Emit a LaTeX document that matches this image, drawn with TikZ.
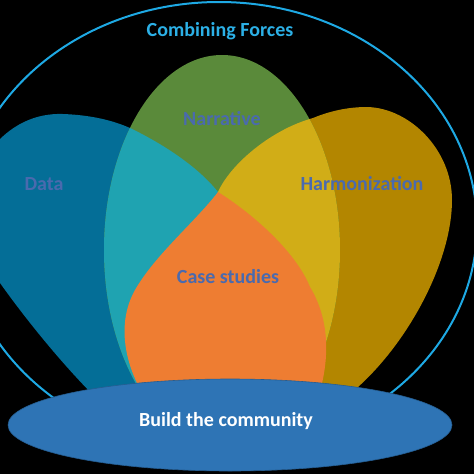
\documentclass[tikz,border=0pt]{standalone}
\usepackage{fontspec}
\setmainfont{Carlito}
\definecolor{dataC}{HTML}{046E97}
\definecolor{cyanC}{HTML}{1FA3B1}
\definecolor{greenC}{HTML}{5A8A3A}
\definecolor{yellowC}{HTML}{D1AD17}
\definecolor{goldC}{HTML}{B38600}
\definecolor{orangeC}{HTML}{EE7D32}
\definecolor{commC}{HTML}{2E74B5}
\definecolor{arcC}{HTML}{1EA9E4}
\definecolor{labelC}{HTML}{4A6AAE}
\definecolor{titleC}{HTML}{2CB0E6}
\tikzset{
  lbl/.style={text=labelC, font=\bfseries\fontsize{20}{24}\selectfont, inner sep=0pt},
  ttl/.style={text=titleC, font=\bfseries\fontsize{20}{24}\selectfont, inner sep=0pt},
  wlbl/.style={text=white, font=\bfseries\fontsize{20}{24}\selectfont, inner sep=0pt}
}
\def\pathData{(-10,150) .. controls (10,125) and (35,113) .. (63,114) .. controls (90,115) and (112,120) .. (130,128) .. controls (155,140) and (195,163) .. (218,192) .. controls (238,220) and (248,260) .. (248,300) -- (245,400) -- (98,400) .. controls (60,362) and (25,318) .. (0,283) -- (-10,270) -- cycle}
\def\pathHarm{(218,192) .. controls (230,165) and (270,130) .. (313,118) .. controls (330,111) and (348,107) .. (367,107) .. controls (410,108) and (452,150) .. (452,200) .. controls (452,260) and (410,340) .. (358,387) -- (345,400) -- (230,400) .. controls (200,330) and (198,240) .. cycle}
\def\pathNarr{(222,250) ellipse [x radius=118, y radius=195]}
\begin{document}
\begin{tikzpicture}[x=1pt,y=-1pt]
\useasboundingbox (0,0) rectangle (474,474);
\clip (0,0) rectangle (474,474);
\fill[black] (0,0) rectangle (474,474);
% outer arc
\draw[arcC, line width=2pt] (219,226) ellipse [x radius=258, y radius=224];
% petals
\fill[dataC] \pathData;
\fill[goldC] \pathHarm;
\fill[greenC] \pathNarr;
\begin{scope}
  \clip \pathData;
  \fill[cyanC] \pathNarr;
\end{scope}
\begin{scope}
  \clip \pathHarm;
  \fill[yellowC] \pathNarr;
\end{scope}
% case studies
\fill[orangeC] (218,192) .. controls (250,212) and (295,250) .. (310,287) .. controls (330,320) and (330,360) .. (318,398) -- (145,398) .. controls (122,360) and (118,320) .. (135,290) .. controls (155,255) and (195,222) .. cycle;
% community
\fill[commC, draw=commC!80!black, line width=0.6pt] (230,425) ellipse [x radius=222, y radius=46];
% labels
\node[ttl] (title) at (220,31) {Combining Forces};
\node[lbl] (narr) at (222,119) {Narrative};
\node[lbl] (data) at (44,184) {Data};
\node[lbl] (harm) at (362,184) {Harmonization};
\node[lbl] (case) at (228,277) {Case studies};
\node[wlbl] (comm) at (226,421) {Build the community};
\end{tikzpicture}
\end{document}
